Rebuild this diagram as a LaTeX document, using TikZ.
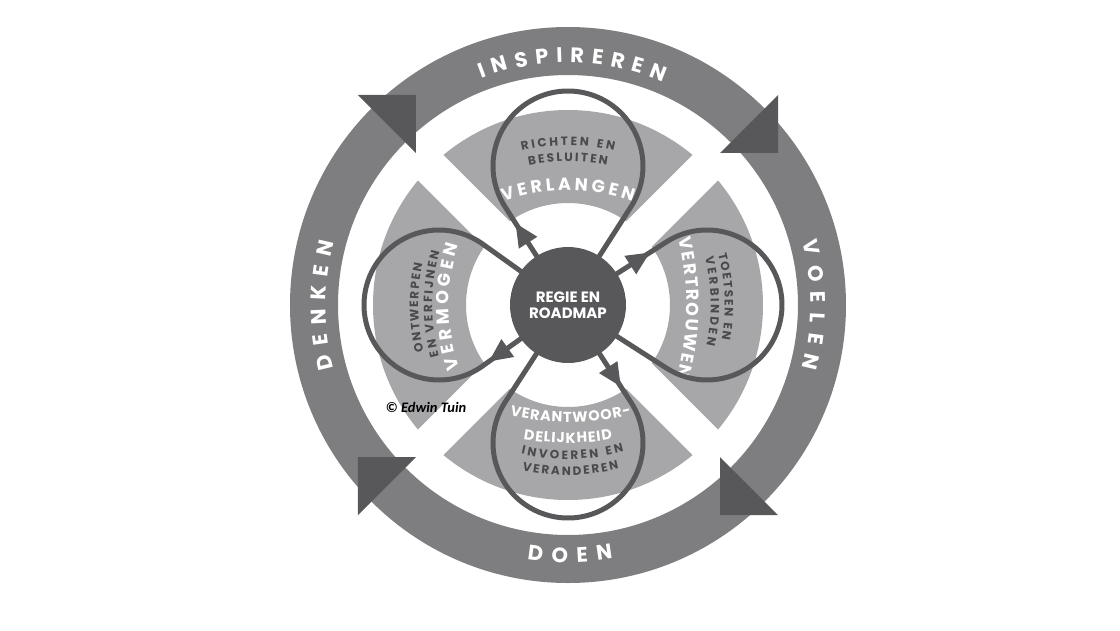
\documentclass[tikz,border=0pt]{standalone}
\usepackage{fontspec}
\setmainfont{Poppins}
\newfontfamily\creditfont{Carlito}
\usetikzlibrary{calc,arrows.meta,decorations.text}

\definecolor{ringgray}{HTML}{7E7E80}
\definecolor{fieldgray}{HTML}{A7A7A9}
\definecolor{hubgray}{HTML}{58585A}
\definecolor{inkgray}{HTML}{4A4A4C}

\newcommand{\ringfnt}{\fontsize{21}{21}\selectfont\bfseries}
\newcommand{\bigfnt}{\fontsize{17.5}{17.5}\selectfont\bfseries}
\newcommand{\midfnt}{\fontsize{14.5}{14.5}\selectfont\bfseries}
\newcommand{\smallfnt}{\fontsize{12}{12}\selectfont\bfseries}

\begin{document}
\begin{tikzpicture}[
    x=1pt, y=1pt,
    loopline/.style={draw=hubgray, line width=5pt},
    loophead/.style={fill=hubgray},
    bandline/.style={draw=white, line width=36pt},
    arcword/.style={decorate, decoration={text along path, text align={fit to path}, text color=#1}},
    hub/.style={circle, fill=hubgray, minimum size=116pt, inner sep=0pt, text=white,
      align=center, font=\fontsize{15}{15.5}\selectfont\bfseries},
  ]
  \path[use as bounding box, fill=white] (-568,-325) rectangle (552,305);

  % outer ring and the four fields
  \fill[ringgray, even odd rule] (0,0) circle[radius=278] (0,0) circle[radius=230];
  \fill[fieldgray, even odd rule] (0,0) circle[radius=195] (0,0) circle[radius=102];
  \draw[bandline] (135:215) -- (-45:215);
  \draw[bandline] (45:215) -- (-135:215);

  % arrow heads on the ring
  \foreach \a in {135,45,-45,-135}
    \fill[hubgray] (\a:215) -- (\a:297) -- ($(\a:256)+(\a-90:41)$) -- cycle;

  % ring words
  \path[arcword=white, decoration={raise=-7.5pt, text={|\ringfnt|INSPIREREN}}]
    (111:250) arc[start angle=111, end angle=67, radius=250];
  \path[arcword=white, decoration={raise=-7.5pt, text={|\ringfnt|VOELEN}}]
    (15:250) arc[start angle=15, end angle=-15, radius=250];
  \path[arcword=white, decoration={raise=-7.5pt, text={|\ringfnt|DOEN}}]
    (260.8:250) arc[start angle=260.8, end angle=280.1, radius=250];
  \path[arcword=white, decoration={raise=-7.5pt, text={|\ringfnt|DENKEN}}]
    (195:250) arc[start angle=195, end angle=165, radius=250];

  % top field
  \path[arcword=inkgray, decoration={raise=-4.2pt, text={|\smallfnt|RICHTEN EN}}]
    ($(0,-36)+(103.6:200)$) arc[start angle=103.6, end angle=76.4, radius=200];
  \path[arcword=inkgray, decoration={raise=-4.2pt, text={|\smallfnt|BESLUITEN}}]
    ($(0,-52)+(101.5:200)$) arc[start angle=101.5, end angle=78.5, radius=200];
  \path[arcword=white, decoration={raise=-6.1pt, text={|\bigfnt|VERLANGEN}}]
    ($(0,-79)+(109.4:200)$) arc[start angle=109.4, end angle=70.6, radius=200];

  % right field
  \path[arcword=inkgray, decoration={raise=-4.2pt, text={|\smallfnt|TOETSEN EN}}]
    ($(-39,0)+(15:200)$) arc[start angle=15, end angle=-10.2, radius=200];
  \path[arcword=inkgray, decoration={raise=-4.2pt, text={|\smallfnt|VERBINDEN}}]
    ($(-53,0)+(14:200)$) arc[start angle=14, end angle=-12, radius=200];
  \path[arcword=white, decoration={raise=-6.1pt, text={|\bigfnt|VERTROUWEN}}]
    ($(-155,0)+(14:280)$) arc[start angle=14, end angle=-15, radius=280];

  % left field
  \path[arcword=inkgray, decoration={raise=-4.2pt, text={|\smallfnt|ONTWERPEN}}]
    ($(46,0)+(193.6:200)$) arc[start angle=193.6, end angle=167.9, radius=200];
  \path[arcword=inkgray, decoration={raise=-4.2pt, text={|\smallfnt|EN VERFIJNEN}}]
    ($(60,0)+(195.1:200)$) arc[start angle=195.1, end angle=164.1, radius=200];
  \path[arcword=white, decoration={raise=-6.1pt, text={|\bigfnt|VERMOGEN}}]
    ($(75,0)+(198.9:200)$) arc[start angle=198.9, end angle=161.9, radius=200];

  % bottom field
  \path[arcword=white, decoration={raise=-5.1pt, text={|\midfnt|VERANTWOOR-}}]
    ($(0,148)+(257.3:260)$) arc[start angle=257.3, end angle=283.9, radius=260];
  \path[arcword=white, decoration={raise=-5.1pt, text={|\midfnt|DELIJKHEID}}]
    ($(0,127)+(260.3:260)$) arc[start angle=260.3, end angle=279.7, radius=260];
  \path[arcword=inkgray, decoration={raise=-4.2pt, text={|\smallfnt|INVOEREN EN}}]
    ($(0,50)+(256.7:200)$) arc[start angle=256.7, end angle=285.9, radius=200];
  \path[arcword=inkgray, decoration={raise=-4.2pt, text={|\smallfnt|VERANDEREN}}]
    ($(0,34)+(257:200)$) arc[start angle=257, end angle=284.5, radius=200];

  % loops round the hub
  \coordinate (o) at (0,0);
  \coordinate (lpT) at (90:139);
  \coordinate (lpR) at (0:139);
  \coordinate (lpB) at (-90:138);
  \coordinate (lpL) at (180:129);
  \foreach \t/\lp/\d in {90/lpT/139, 0/lpR/139, -90/lpB/138, 180/lpL/129} {
    \pgfmathsetmacro{\al}{asin(75/\d)}
    \draw[loopline] (o) -- ($(\lp)+(\t+90+\al:75)$)
      arc[start angle=\t+90+\al, end angle=\t-90-\al, radius=75] -- (o);
    \fill[loophead] (\t+\al:97) -- ($(\t+\al:74)+(\t+\al+90:11)$)
      -- ($(\t+\al:74)+(\t+\al-90:11)$) -- cycle;
  }

  \node[hub] (hub) at (o) {REGIE EN\\ROADMAP};
  \node[font=\creditfont\bfseries\itshape\fontsize{14.5}{15}\selectfont] (credit) at (-142,-102) {© Edwin Tuin};
\end{tikzpicture}
\end{document}
